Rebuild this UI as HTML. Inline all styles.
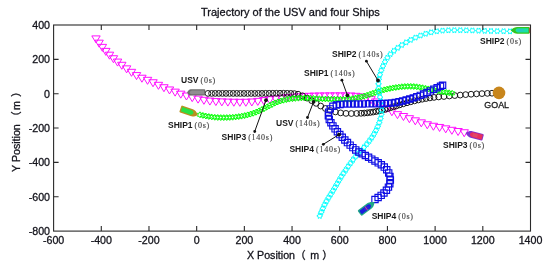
<!DOCTYPE html>
<html><head><meta charset="utf-8"><title>Trajectory of the USV and four Ships</title>
<style>html,body{margin:0;padding:0;background:#fff}svg{display:block}</style></head>
<body>
<svg width="550" height="267" viewBox="0 0 550 267">
<rect width="550" height="267" fill="#fff"/>
<path fill="none" stroke="#ff10ff" stroke-width="1" d="M91.8 35.9L100.2 35.9L96 42.9ZM94.94 40.17L103.34 40.17L99.14 47.17ZM98.18 44.37L106.58 44.37L102.38 51.37ZM101.62 48.39L110.02 48.39L105.82 55.39ZM105.33 52.18L113.73 52.18L109.53 59.18ZM109.27 55.73L117.67 55.73L113.47 62.73ZM113.37 59.08L121.77 59.08L117.57 66.08ZM117.59 62.29L125.99 62.29L121.79 69.29ZM122.42 65.85L130.82 65.85L126.62 72.85ZM127.31 69.32L135.71 69.32L131.51 76.32ZM132.34 72.59L140.74 72.59L136.54 79.59ZM137.72 75.22L146.12 75.22L141.92 82.22ZM143.35 77.32L151.75 77.32L147.55 84.32ZM148.83 79.74L157.23 79.74L153.03 86.74ZM154.25 82.32L162.65 82.32L158.45 89.32ZM159.75 84.72L168.15 84.72L163.95 91.72ZM165.31 86.96L173.71 86.96L169.51 93.96ZM170.91 89.13L179.31 89.13L175.11 96.13ZM176.56 91.16L184.96 91.16L180.76 98.16ZM182.26 93.01L190.66 93.01L186.46 100.01ZM188.03 94.67L196.43 94.67L192.23 101.67ZM193.85 96.14L202.25 96.14L198.05 103.14ZM199.73 97.31L208.13 97.31L203.93 104.31ZM205.68 98.09L214.08 98.09L209.88 105.09ZM211.66 98.57L220.06 98.57L215.86 105.57ZM217.65 98.88L226.05 98.88L221.85 105.88ZM223.65 99.1L232.05 99.1L227.85 106.1ZM229.64 99.24L238.04 99.24L233.84 106.24ZM235.64 99.3L244.04 99.3L239.84 106.3ZM241.64 99.25L250.04 99.25L245.84 106.25ZM247.64 98.98L256.04 98.98L251.84 105.98ZM253.61 98.38L262.01 98.38L257.81 105.38ZM259.55 97.54L267.95 97.54L263.75 104.54ZM265.48 96.66L273.88 96.66L269.68 103.66ZM271.43 95.86L279.83 95.86L275.63 102.86ZM277.39 95.15L285.79 95.15L281.59 102.15ZM283.36 94.56L291.76 94.56L287.56 101.56ZM289.34 94.1L297.74 94.1L293.54 101.1ZM294.53 93.77L302.93 93.77L298.73 100.77ZM299.72 93.5L308.12 93.5L303.92 100.5ZM304.92 93.29L313.32 93.29L309.12 100.29ZM310.11 93.12L318.51 93.12L314.31 100.12ZM315.31 93.01L323.71 93.01L319.51 100.01ZM320.51 92.94L328.91 92.94L324.71 99.94ZM325.71 92.91L334.11 92.91L329.91 99.91ZM330.91 92.9L339.31 92.9L335.11 99.9ZM336.11 92.9L344.51 92.9L340.31 99.9ZM341.31 92.91L349.71 92.91L345.51 99.91ZM346.51 93.01L354.91 93.01L350.71 100.01ZM351.7 93.3L360.1 93.3L355.9 100.3ZM356.87 93.89L365.27 93.89L361.07 100.89ZM361.96 94.94L370.36 94.94L366.16 101.94ZM366.87 96.63L375.27 96.63L371.07 103.63ZM371.52 98.95L379.92 98.95L375.72 105.95ZM376.93 102.18L385.33 102.18L381.13 109.18ZM382.35 105.4L390.75 105.4L386.55 112.4ZM387.68 108.75L396.08 108.75L391.88 115.75ZM393.27 111.65L401.67 111.65L397.47 118.65ZM399.28 113.5L407.68 113.5L403.48 120.5ZM405.19 115.68L413.59 115.68L409.39 122.68ZM411.11 117.83L419.51 117.83L415.31 124.83ZM417.09 119.83L425.49 119.83L421.29 126.83ZM423.08 121.77L431.48 121.77L427.28 128.77ZM429.2 123.26L437.6 123.26L433.4 130.26ZM435.39 124.46L443.79 124.46L439.59 131.46ZM441.53 125.84L449.93 125.84L445.73 132.84ZM447.66 127.31L456.06 127.31L451.86 134.31ZM453.85 128.5L462.25 128.5L458.05 135.5ZM460.02 129.74L468.42 129.74L464.22 136.74Z"/>
<g fill="none" stroke="#111" stroke-width="0.95"><circle cx="208" cy="93.4" r="2.9"/><circle cx="211.6" cy="93.4" r="2.9"/><circle cx="215.2" cy="93.39" r="2.9"/><circle cx="218.8" cy="93.39" r="2.9"/><circle cx="222.4" cy="93.39" r="2.9"/><circle cx="226" cy="93.4" r="2.9"/><circle cx="229.6" cy="93.4" r="2.9"/><circle cx="233.2" cy="93.41" r="2.9"/><circle cx="236.8" cy="93.41" r="2.9"/><circle cx="240.4" cy="93.42" r="2.9"/><circle cx="244" cy="93.43" r="2.9"/><circle cx="247.6" cy="93.43" r="2.9"/><circle cx="251.2" cy="93.43" r="2.9"/><circle cx="254.8" cy="93.43" r="2.9"/><circle cx="258.4" cy="93.41" r="2.9"/><circle cx="262" cy="93.39" r="2.9"/><circle cx="265.6" cy="93.35" r="2.9"/><circle cx="269.2" cy="93.32" r="2.9"/><circle cx="272.8" cy="93.29" r="2.9"/><circle cx="276.4" cy="93.28" r="2.9"/><circle cx="280" cy="93.27" r="2.9"/><circle cx="283.6" cy="93.29" r="2.9"/><circle cx="287.2" cy="93.34" r="2.9"/><circle cx="290.8" cy="93.42" r="2.9"/><circle cx="294.39" cy="93.62" r="2.9"/><circle cx="298.05" cy="94.21" r="2.9"/><circle cx="302.45" cy="95.78" r="2.9"/><circle cx="307.11" cy="98.1" r="2.9"/><circle cx="311.67" cy="100.65" r="2.9"/><circle cx="316.16" cy="103.36" r="2.9"/><circle cx="320.69" cy="106.05" r="2.9"/><circle cx="325.38" cy="108.46" r="2.9"/><circle cx="330.29" cy="110.44" r="2.9"/><circle cx="335.4" cy="111.92" r="2.9"/><circle cx="340.64" cy="112.89" r="2.9"/><circle cx="345.97" cy="113.39" r="2.9"/><circle cx="351.35" cy="113.53" r="2.9"/><circle cx="356.74" cy="113.46" r="2.9"/><circle cx="361" cy="113.3" r="2.9"/><circle cx="364.23" cy="113.09" r="2.9"/><circle cx="367.22" cy="112.82" r="2.9"/><circle cx="370.2" cy="112.47" r="2.9"/><circle cx="373.17" cy="112.03" r="2.9"/><circle cx="376.12" cy="111.5" r="2.9"/><circle cx="379.06" cy="110.88" r="2.9"/><circle cx="381.98" cy="110.19" r="2.9"/><circle cx="384.88" cy="109.43" r="2.9"/><circle cx="387.76" cy="108.61" r="2.9"/><circle cx="390.63" cy="107.74" r="2.9"/><circle cx="393.5" cy="106.84" r="2.9"/><circle cx="396.49" cy="105.89" r="2.9"/><circle cx="399.73" cy="104.88" r="2.9"/><circle cx="403.28" cy="103.83" r="2.9"/><circle cx="407.03" cy="102.77" r="2.9"/><circle cx="410.8" cy="101.78" r="2.9"/><circle cx="414.59" cy="100.85" r="2.9"/><circle cx="418.4" cy="99.99" r="2.9"/><circle cx="422.22" cy="99.21" r="2.9"/><circle cx="426.05" cy="98.51" r="2.9"/><circle cx="429.91" cy="97.91" r="2.9"/><circle cx="434.02" cy="97.4" r="2.9"/><circle cx="438.68" cy="96.94" r="2.9"/><circle cx="443.94" cy="96.49" r="2.9"/><circle cx="449.37" cy="96.02" r="2.9"/><circle cx="454.79" cy="95.54" r="2.9"/><circle cx="460.22" cy="95.07" r="2.9"/><circle cx="465.66" cy="94.62" r="2.9"/><circle cx="471.09" cy="94.22" r="2.9"/><circle cx="476.53" cy="93.88" r="2.9"/><circle cx="481.97" cy="93.6" r="2.9"/><circle cx="487.42" cy="93.37" r="2.9"/><circle cx="492" cy="93.2" r="2.9"/></g>
<path fill="none" stroke="#00ff00" stroke-width="0.9" d="M200 111.8L200.87 113.3L202.6 113.3L201.73 114.8L202.6 116.3L200.87 116.3L200 117.8L199.13 116.3L197.4 116.3L198.27 114.8L197.4 113.3L199.13 113.3ZM202.93 112.43L203.8 113.93L205.53 113.93L204.67 115.43L205.53 116.93L203.8 116.93L202.93 118.43L202.07 116.93L200.33 116.93L201.2 115.43L200.33 113.93L202.07 113.93ZM205.87 113.02L206.74 114.52L208.47 114.52L207.61 116.02L208.47 117.52L206.74 117.52L205.87 119.02L205.01 117.52L203.28 117.52L204.14 116.02L203.28 114.52L205.01 114.52ZM208.83 113.53L209.7 115.03L211.43 115.03L210.56 116.53L211.43 118.03L209.7 118.03L208.83 119.53L207.96 118.03L206.23 118.03L207.1 116.53L206.23 115.03L207.96 115.03ZM211.8 113.94L212.67 115.44L214.4 115.44L213.53 116.94L214.4 118.44L212.67 118.44L211.8 119.94L210.94 118.44L209.2 118.44L210.07 116.94L209.2 115.44L210.94 115.44ZM214.79 114.25L215.65 115.75L217.38 115.75L216.52 117.25L217.38 118.75L215.65 118.75L214.79 120.25L213.92 118.75L212.19 118.75L213.05 117.25L212.19 115.75L213.92 115.75ZM217.78 114.46L218.64 115.96L220.38 115.96L219.51 117.46L220.38 118.96L218.64 118.96L217.78 120.46L216.91 118.96L215.18 118.96L216.05 117.46L215.18 115.96L216.91 115.96ZM220.78 114.58L221.64 116.08L223.37 116.08L222.51 117.58L223.37 119.08L221.64 119.08L220.78 120.58L219.91 119.08L218.18 119.08L219.04 117.58L218.18 116.08L219.91 116.08ZM223.78 114.61L224.64 116.11L226.37 116.11L225.51 117.61L226.37 119.11L224.64 119.11L223.78 120.61L222.91 119.11L221.18 119.11L222.04 117.61L221.18 116.11L222.91 116.11ZM226.78 114.56L227.64 116.06L229.37 116.06L228.51 117.56L229.37 119.06L227.64 119.06L226.78 120.56L225.91 119.06L224.18 119.06L225.04 117.56L224.18 116.06L225.91 116.06ZM229.77 114.43L230.64 115.93L232.37 115.93L231.5 117.43L232.37 118.93L230.64 118.93L229.77 120.43L228.91 118.93L227.17 118.93L228.04 117.43L227.17 115.93L228.91 115.93ZM232.77 114.23L233.63 115.73L235.36 115.73L234.5 117.23L235.36 118.73L233.63 118.73L232.77 120.23L231.9 118.73L230.17 118.73L231.03 117.23L230.17 115.73L231.9 115.73ZM235.75 113.95L236.62 115.45L238.35 115.45L237.49 116.95L238.35 118.45L236.62 118.45L235.75 119.95L234.89 118.45L233.15 118.45L234.02 116.95L233.15 115.45L234.89 115.45ZM238.73 113.59L239.6 115.09L241.33 115.09L240.46 116.59L241.33 118.09L239.6 118.09L238.73 119.59L237.87 118.09L236.13 118.09L237 116.59L236.13 115.09L237.87 115.09ZM241.7 113.14L242.56 114.64L244.29 114.64L243.43 116.14L244.29 117.64L242.56 117.64L241.7 119.14L240.83 117.64L239.1 117.64L239.96 116.14L239.1 114.64L240.83 114.64ZM244.64 112.58L245.51 114.08L247.24 114.08L246.38 115.58L247.24 117.08L245.51 117.08L244.64 118.58L243.78 117.08L242.05 117.08L242.91 115.58L242.05 114.08L243.78 114.08ZM247.57 111.9L248.43 113.4L250.16 113.4L249.3 114.9L250.16 116.4L248.43 116.4L247.57 117.9L246.7 116.4L244.97 116.4L245.83 114.9L244.97 113.4L246.7 113.4ZM250.46 111.1L251.32 112.6L253.06 112.6L252.19 114.1L253.06 115.6L251.32 115.6L250.46 117.1L249.59 115.6L247.86 115.6L248.73 114.1L247.86 112.6L249.59 112.6ZM253.31 110.19L254.18 111.69L255.91 111.69L255.05 113.19L255.91 114.69L254.18 114.69L253.31 116.19L252.45 114.69L250.72 114.69L251.58 113.19L250.72 111.69L252.45 111.69ZM256.13 109.15L256.99 110.65L258.73 110.65L257.86 112.15L258.73 113.65L256.99 113.65L256.13 115.15L255.26 113.65L253.53 113.65L254.4 112.15L253.53 110.65L255.26 110.65ZM258.9 107.99L259.76 109.49L261.49 109.49L260.63 110.99L261.49 112.49L259.76 112.49L258.9 113.99L258.03 112.49L256.3 112.49L257.16 110.99L256.3 109.49L258.03 109.49ZM261.62 106.74L262.49 108.24L264.22 108.24L263.35 109.74L264.22 111.24L262.49 111.24L261.62 112.74L260.75 111.24L259.02 111.24L259.89 109.74L259.02 108.24L260.75 108.24ZM264.31 105.41L265.18 106.91L266.91 106.91L266.04 108.41L266.91 109.91L265.18 109.91L264.31 111.41L263.44 109.91L261.71 109.91L262.58 108.41L261.71 106.91L263.44 106.91ZM266.97 104.03L267.84 105.53L269.57 105.53L268.71 107.03L269.57 108.53L267.84 108.53L266.97 110.03L266.11 108.53L264.38 108.53L265.24 107.03L264.38 105.53L266.11 105.53ZM269.62 102.62L270.49 104.12L272.22 104.12L271.36 105.62L272.22 107.12L270.49 107.12L269.62 108.62L268.76 107.12L267.03 107.12L267.89 105.62L267.03 104.12L268.76 104.12ZM272.29 101.25L273.16 102.75L274.89 102.75L274.03 104.25L274.89 105.75L273.16 105.75L272.29 107.25L271.43 105.75L269.7 105.75L270.56 104.25L269.7 102.75L271.43 102.75ZM275.02 99.99L275.88 101.49L277.61 101.49L276.75 102.99L277.61 104.49L275.88 104.49L275.02 105.99L274.15 104.49L272.42 104.49L273.28 102.99L272.42 101.49L274.15 101.49ZM277.81 98.9L278.68 100.4L280.41 100.4L279.54 101.9L280.41 103.4L278.68 103.4L277.81 104.9L276.95 103.4L275.21 103.4L276.08 101.9L275.21 100.4L276.95 100.4ZM280.67 97.99L281.53 99.49L283.27 99.49L282.4 100.99L283.27 102.49L281.53 102.49L280.67 103.99L279.8 102.49L278.07 102.49L278.94 100.99L278.07 99.49L279.8 99.49ZM283.57 97.22L284.43 98.72L286.17 98.72L285.3 100.22L286.17 101.72L284.43 101.72L283.57 103.22L282.7 101.72L280.97 101.72L281.84 100.22L280.97 98.72L282.7 98.72ZM286.5 96.59L287.37 98.09L289.1 98.09L288.23 99.59L289.1 101.09L287.37 101.09L286.5 102.59L285.63 101.09L283.9 101.09L284.77 99.59L283.9 98.09L285.63 98.09ZM289.46 96.08L290.32 97.58L292.05 97.58L291.19 99.08L292.05 100.58L290.32 100.58L289.46 102.08L288.59 100.58L286.86 100.58L287.72 99.08L286.86 97.58L288.59 97.58ZM292.43 95.67L293.29 97.17L295.03 97.17L294.16 98.67L295.03 100.17L293.29 100.17L292.43 101.67L291.56 100.17L289.83 100.17L290.7 98.67L289.83 97.17L291.56 97.17ZM295.41 95.36L296.28 96.86L298.01 96.86L297.14 98.36L298.01 99.86L296.28 99.86L295.41 101.36L294.55 99.86L292.81 99.86L293.68 98.36L292.81 96.86L294.55 96.86ZM298.4 95.14L299.27 96.64L301 96.64L300.14 98.14L301 99.64L299.27 99.64L298.4 101.14L297.54 99.64L295.81 99.64L296.67 98.14L295.81 96.64L297.54 96.64ZM301.4 95.02L302.27 96.52L304 96.52L303.13 98.02L304 99.52L302.27 99.52L301.4 101.02L300.53 99.52L298.8 99.52L299.67 98.02L298.8 96.52L300.53 96.52ZM304.4 94.99L305.27 96.49L307 96.49L306.13 97.99L307 99.49L305.27 99.49L304.4 100.99L303.53 99.49L301.8 99.49L302.67 97.99L301.8 96.49L303.53 96.49ZM307.4 95.06L308.27 96.56L310 96.56L309.13 98.06L310 99.56L308.27 99.56L307.4 101.06L306.53 99.56L304.8 99.56L305.67 98.06L304.8 96.56L306.53 96.56ZM310.4 95.21L311.26 96.71L312.99 96.71L312.13 98.21L312.99 99.71L311.26 99.71L310.4 101.21L309.53 99.71L307.8 99.71L308.66 98.21L307.8 96.71L309.53 96.71ZM313.39 95.39L314.26 96.89L315.99 96.89L315.12 98.39L315.99 99.89L314.26 99.89L313.39 101.39L312.52 99.89L310.79 99.89L311.66 98.39L310.79 96.89L312.52 96.89ZM316.38 95.59L317.25 97.09L318.98 97.09L318.12 98.59L318.98 100.09L317.25 100.09L316.38 101.59L315.52 100.09L313.79 100.09L314.65 98.59L313.79 97.09L315.52 97.09ZM319.38 95.77L320.24 97.27L321.98 97.27L321.11 98.77L321.98 100.27L320.24 100.27L319.38 101.77L318.51 100.27L316.78 100.27L317.65 98.77L316.78 97.27L318.51 97.27ZM322.38 95.9L323.24 97.4L324.97 97.4L324.11 98.9L324.97 100.4L323.24 100.4L322.38 101.9L321.51 100.4L319.78 100.4L320.64 98.9L319.78 97.4L321.51 97.4ZM325.37 96L326.24 97.5L327.97 97.5L327.11 99L327.97 100.5L326.24 100.5L325.37 102L324.51 100.5L322.78 100.5L323.64 99L322.78 97.5L324.51 97.5ZM328.37 96.06L329.24 97.56L330.97 97.56L330.11 99.06L330.97 100.56L329.24 100.56L328.37 102.06L327.51 100.56L325.78 100.56L326.64 99.06L325.78 97.56L327.51 97.56ZM331.37 96.11L332.24 97.61L333.97 97.61L333.11 99.11L333.97 100.61L332.24 100.61L331.37 102.11L330.51 100.61L328.78 100.61L329.64 99.11L328.78 97.61L330.51 97.61ZM334.37 96.17L335.24 97.67L336.97 97.67L336.1 99.17L336.97 100.67L335.24 100.67L334.37 102.17L333.51 100.67L331.77 100.67L332.64 99.17L331.77 97.67L333.51 97.67ZM337.37 96.23L338.24 97.73L339.97 97.73L339.1 99.23L339.97 100.73L338.24 100.73L337.37 102.23L336.51 100.73L334.77 100.73L335.64 99.23L334.77 97.73L336.51 97.73ZM340.37 96.3L341.24 97.8L342.97 97.8L342.1 99.3L342.97 100.8L341.24 100.8L340.37 102.3L339.51 100.8L337.77 100.8L338.64 99.3L337.77 97.8L339.51 97.8ZM343.37 96.33L344.24 97.83L345.97 97.83L345.1 99.33L345.97 100.83L344.24 100.83L343.37 102.33L342.5 100.83L340.77 100.83L341.64 99.33L340.77 97.83L342.5 97.83ZM346.37 96.27L347.24 97.77L348.97 97.77L348.1 99.27L348.97 100.77L347.24 100.77L346.37 102.27L345.5 100.77L343.77 100.77L344.64 99.27L343.77 97.77L345.5 97.77ZM349.36 96.07L350.23 97.57L351.96 97.57L351.09 99.07L351.96 100.57L350.23 100.57L349.36 102.07L348.5 100.57L346.76 100.57L347.63 99.07L346.76 97.57L348.5 97.57ZM352.34 95.69L353.2 97.19L354.94 97.19L354.07 98.69L354.94 100.19L353.2 100.19L352.34 101.69L351.47 100.19L349.74 100.19L350.61 98.69L349.74 97.19L351.47 97.19ZM355.29 95.16L356.16 96.66L357.89 96.66L357.02 98.16L357.89 99.66L356.16 99.66L355.29 101.16L354.43 99.66L352.69 99.66L353.56 98.16L352.69 96.66L354.43 96.66ZM358.23 94.55L359.09 96.05L360.83 96.05L359.96 97.55L360.83 99.05L359.09 99.05L358.23 100.55L357.36 99.05L355.63 99.05L356.5 97.55L355.63 96.05L357.36 96.05ZM361.15 93.88L362.02 95.38L363.75 95.38L362.89 96.88L363.75 98.38L362.02 98.38L361.15 99.88L360.29 98.38L358.56 98.38L359.42 96.88L358.56 95.38L360.29 95.38ZM364.06 93.15L364.93 94.65L366.66 94.65L365.79 96.15L366.66 97.65L364.93 97.65L364.06 99.15L363.2 97.65L361.46 97.65L362.33 96.15L361.46 94.65L363.2 94.65ZM366.94 92.31L367.81 93.81L369.54 93.81L368.68 95.31L369.54 96.81L367.81 96.81L366.94 98.31L366.08 96.81L364.35 96.81L365.21 95.31L364.35 93.81L366.08 93.81ZM369.8 91.39L370.66 92.89L372.4 92.89L371.53 94.39L372.4 95.89L370.66 95.89L369.8 97.39L368.93 95.89L367.2 95.89L368.06 94.39L367.2 92.89L368.93 92.89ZM372.63 90.41L373.5 91.91L375.23 91.91L374.37 93.41L375.23 94.91L373.5 94.91L372.63 96.41L371.77 94.91L370.04 94.91L370.9 93.41L370.04 91.91L371.77 91.91ZM375.47 89.44L376.34 90.94L378.07 90.94L377.2 92.44L378.07 93.94L376.34 93.94L375.47 95.44L374.61 93.94L372.87 93.94L373.74 92.44L372.87 90.94L374.61 90.94ZM378.32 88.51L379.19 90.01L380.92 90.01L380.06 91.51L380.92 93.01L379.19 93.01L378.32 94.51L377.46 93.01L375.73 93.01L376.59 91.51L375.73 90.01L377.46 90.01ZM381.19 87.64L382.06 89.14L383.79 89.14L382.93 90.64L383.79 92.14L382.06 92.14L381.19 93.64L380.33 92.14L378.6 92.14L379.46 90.64L378.6 89.14L380.33 89.14ZM384.08 86.83L384.95 88.33L386.68 88.33L385.82 89.83L386.68 91.33L384.95 91.33L384.08 92.83L383.22 91.33L381.49 91.33L382.35 89.83L381.49 88.33L383.22 88.33ZM387 86.12L387.86 87.62L389.6 87.62L388.73 89.12L389.6 90.62L387.86 90.62L387 92.12L386.13 90.62L384.4 90.62L385.27 89.12L384.4 87.62L386.13 87.62ZM389.93 85.49L390.8 86.99L392.53 86.99L391.66 88.49L392.53 89.99L390.8 89.99L389.93 91.49L389.07 89.99L387.33 89.99L388.2 88.49L387.33 86.99L389.07 86.99ZM392.88 84.95L393.75 86.45L395.48 86.45L394.61 87.95L395.48 89.45L393.75 89.45L392.88 90.95L392.02 89.45L390.28 89.45L391.15 87.95L390.28 86.45L392.02 86.45ZM395.84 84.47L396.71 85.97L398.44 85.97L397.58 87.47L398.44 88.97L396.71 88.97L395.84 90.47L394.98 88.97L393.25 88.97L394.11 87.47L393.25 85.97L394.98 85.97ZM398.82 84.07L399.68 85.57L401.41 85.57L400.55 87.07L401.41 88.57L399.68 88.57L398.82 90.07L397.95 88.57L396.22 88.57L397.08 87.07L396.22 85.57L397.95 85.57ZM401.8 83.74L402.66 85.24L404.4 85.24L403.53 86.74L404.4 88.24L402.66 88.24L401.8 89.74L400.93 88.24L399.2 88.24L400.07 86.74L399.2 85.24L400.93 85.24ZM404.79 83.51L405.66 85.01L407.39 85.01L406.52 86.51L407.39 88.01L405.66 88.01L404.79 89.51L403.92 88.01L402.19 88.01L403.06 86.51L402.19 85.01L403.92 85.01ZM407.79 83.38L408.65 84.88L410.38 84.88L409.52 86.38L410.38 87.88L408.65 87.88L407.79 89.38L406.92 87.88L405.19 87.88L406.05 86.38L405.19 84.88L406.92 84.88ZM410.79 83.37L411.65 84.87L413.38 84.87L412.52 86.37L413.38 87.87L411.65 87.87L410.79 89.37L409.92 87.87L408.19 87.87L409.05 86.37L408.19 84.87L409.92 84.87ZM413.78 83.5L414.65 85L416.38 85L415.52 86.5L416.38 88L414.65 88L413.78 89.5L412.92 88L411.19 88L412.05 86.5L411.19 85L412.92 85ZM416.77 83.79L417.64 85.29L419.37 85.29L418.5 86.79L419.37 88.29L417.64 88.29L416.77 89.79L415.9 88.29L414.17 88.29L415.04 86.79L414.17 85.29L415.9 85.29ZM419.74 84.22L420.6 85.72L422.34 85.72L421.47 87.22L422.34 88.72L420.6 88.72L419.74 90.22L418.87 88.72L417.14 88.72L418.01 87.22L417.14 85.72L418.87 85.72ZM422.69 84.74L423.56 86.24L425.29 86.24L424.42 87.74L425.29 89.24L423.56 89.24L422.69 90.74L421.83 89.24L420.09 89.24L420.96 87.74L420.09 86.24L421.83 86.24ZM425.63 85.33L426.5 86.83L428.23 86.83L427.37 88.33L428.23 89.83L426.5 89.83L425.63 91.33L424.77 89.83L423.04 89.83L423.9 88.33L423.04 86.83L424.77 86.83ZM428.57 85.94L429.44 87.44L431.17 87.44L430.3 88.94L431.17 90.44L429.44 90.44L428.57 91.94L427.71 90.44L425.97 90.44L426.84 88.94L425.97 87.44L427.71 87.44ZM431.51 86.56L432.37 88.06L434.1 88.06L433.24 89.56L434.1 91.06L432.37 91.06L431.51 92.56L430.64 91.06L428.91 91.06L429.77 89.56L428.91 88.06L430.64 88.06ZM434.44 87.18L435.31 88.68L437.04 88.68L436.17 90.18L437.04 91.68L435.31 91.68L434.44 93.18L433.58 91.68L431.84 91.68L432.71 90.18L431.84 88.68L433.58 88.68ZM437.38 87.79L438.25 89.29L439.98 89.29L439.11 90.79L439.98 92.29L438.25 92.29L437.38 93.79L436.51 92.29L434.78 92.29L435.65 90.79L434.78 89.29L436.51 89.29ZM440.32 88.36L441.19 89.86L442.92 89.86L442.06 91.36L442.92 92.86L441.19 92.86L440.32 94.36L439.46 92.86L437.73 92.86L438.59 91.36L437.73 89.86L439.46 89.86ZM443.27 88.9L444.14 90.4L445.87 90.4L445.01 91.9L445.87 93.4L444.14 93.4L443.27 94.9L442.41 93.4L440.68 93.4L441.54 91.9L440.68 90.4L442.41 90.4ZM446.23 89.4L447.1 90.9L448.83 90.9L447.97 92.4L448.83 93.9L447.1 93.9L446.23 95.4L445.37 93.9L443.64 93.9L444.5 92.4L443.64 90.9L445.37 90.9ZM449.2 89.85L450.06 91.35L451.8 91.35L450.93 92.85L451.8 94.35L450.06 94.35L449.2 95.85L448.33 94.35L446.6 94.35L447.47 92.85L446.6 91.35L448.33 91.35ZM452.17 90.28L453.03 91.78L454.77 91.78L453.9 93.28L454.77 94.78L453.03 94.78L452.17 96.28L451.3 94.78L449.57 94.78L450.44 93.28L449.57 91.78L451.3 91.78Z"/>
<path fill="none" stroke="#00ffff" stroke-width="0.95" d="M512.95 31.3L511.48 32.15L511.48 33.85L510 33L508.52 33.85L508.52 32.15L507.05 31.3L508.52 30.45L508.52 28.75L510 29.6L511.48 28.75L511.48 30.45ZM506.55 31.22L505.08 32.08L505.08 33.78L503.6 32.93L502.13 33.78L502.13 32.08L500.65 31.22L502.13 30.37L502.13 28.67L503.6 29.52L505.08 28.67L505.08 30.37ZM500.21 31.14L498.73 31.99L498.73 33.69L497.26 32.84L495.78 33.69L495.78 31.99L494.31 31.14L495.78 30.28L495.78 28.58L497.26 29.43L498.73 28.58L498.73 30.28ZM493.92 31.03L492.44 31.88L492.44 33.58L490.97 32.73L489.49 33.58L489.49 31.88L488.02 31.03L489.49 30.17L489.49 28.47L490.97 29.32L492.44 28.47L492.44 30.17ZM487.68 30.88L486.21 31.73L486.21 33.43L484.73 32.58L483.26 33.43L483.26 31.73L481.78 30.88L483.26 30.03L483.26 28.32L484.73 29.18L486.21 28.32L486.21 30.03ZM481.5 30.69L480.03 31.54L480.03 33.24L478.55 32.39L477.08 33.24L477.08 31.54L475.6 30.69L477.08 29.83L477.08 28.13L478.55 28.98L480.03 28.13L480.03 29.83ZM475.37 30.47L473.9 31.33L473.9 33.03L472.42 32.18L470.95 33.03L470.95 31.33L469.47 30.47L470.95 29.62L470.95 27.92L472.42 28.77L473.9 27.92L473.9 29.62ZM469.3 30.31L467.82 31.16L467.82 32.86L466.35 32.01L464.87 32.86L464.87 31.16L463.4 30.31L464.87 29.46L464.87 27.75L466.35 28.61L467.82 27.75L467.82 29.46ZM463.27 30.22L461.8 31.07L461.8 32.77L460.32 31.92L458.85 32.77L458.85 31.07L457.37 30.22L458.85 29.37L458.85 27.66L460.32 28.51L461.8 27.66L461.8 29.37ZM457.3 30.2L455.82 31.05L455.82 32.76L454.35 31.91L452.87 32.76L452.87 31.05L451.4 30.2L452.87 29.35L452.87 27.65L454.35 28.5L455.82 27.65L455.82 29.35ZM451.38 30.29L449.9 31.15L449.9 32.85L448.43 32L446.95 32.85L446.95 31.15L445.48 30.29L446.95 29.44L446.95 27.74L448.43 28.59L449.9 27.74L449.9 29.44ZM445.51 30.61L444.04 31.46L444.04 33.16L442.56 32.31L441.09 33.16L441.09 31.46L439.61 30.61L441.09 29.76L441.09 28.06L442.56 28.91L444.04 28.06L444.04 29.76ZM439.73 31.27L438.26 32.12L438.26 33.82L436.78 32.97L435.31 33.82L435.31 32.12L433.83 31.27L435.31 30.42L435.31 28.72L436.78 29.57L438.26 28.72L438.26 30.42ZM434.09 32.32L432.62 33.17L432.62 34.87L431.14 34.02L429.67 34.87L429.67 33.17L428.19 32.32L429.67 31.46L429.67 29.76L431.14 30.61L432.62 29.76L432.62 31.46ZM428.66 33.74L427.18 34.59L427.18 36.29L425.71 35.44L424.23 36.29L424.23 34.59L422.76 33.74L424.23 32.89L424.23 31.18L425.71 32.03L427.18 31.18L427.18 32.89ZM423.45 35.51L421.97 36.36L421.97 38.07L420.5 37.22L419.02 38.07L419.02 36.36L417.55 35.51L419.02 34.66L419.02 32.96L420.5 33.81L421.97 32.96L421.97 34.66ZM418.46 37.58L416.99 38.43L416.99 40.14L415.51 39.28L414.04 40.14L414.04 38.43L412.56 37.58L414.04 36.73L414.04 35.03L415.51 35.88L416.99 35.03L416.99 36.73ZM413.7 39.87L412.22 40.73L412.22 42.43L410.75 41.58L409.27 42.43L409.27 40.73L407.8 39.87L409.27 39.02L409.27 37.32L410.75 38.17L412.22 37.32L412.22 39.02ZM409.14 42.34L407.67 43.2L407.67 44.9L406.19 44.05L404.72 44.9L404.72 43.2L403.24 42.34L404.72 41.49L404.72 39.79L406.19 40.64L407.67 39.79L407.67 41.49ZM404.8 44.99L403.33 45.84L403.33 47.54L401.85 46.69L400.38 47.54L400.38 45.84L398.9 44.99L400.38 44.14L400.38 42.44L401.85 43.29L403.33 42.44L403.33 44.14ZM400.7 47.81L399.23 48.66L399.23 50.37L397.75 49.52L396.28 50.37L396.28 48.66L394.8 47.81L396.28 46.96L396.28 45.26L397.75 46.11L399.23 45.26L399.23 46.96ZM396.87 50.82L395.39 51.68L395.39 53.38L393.92 52.53L392.44 53.38L392.44 51.68L390.97 50.82L392.44 49.97L392.44 48.27L393.92 49.12L395.39 48.27L395.39 49.97ZM393.39 54.11L391.91 54.97L391.91 56.67L390.44 55.82L388.96 56.67L388.96 54.97L387.49 54.11L388.96 53.26L388.96 51.56L390.44 52.41L391.91 51.56L391.91 53.26ZM390.38 57.79L388.9 58.64L388.9 60.35L387.43 59.5L385.95 60.35L385.95 58.64L384.48 57.79L385.95 56.94L385.95 55.24L387.43 56.09L388.9 55.24L388.9 56.94ZM387.94 61.83L386.47 62.69L386.47 64.39L384.99 63.54L383.52 64.39L383.52 62.69L382.04 61.83L383.52 60.98L383.52 59.28L384.99 60.13L386.47 59.28L386.47 60.98ZM385.94 66.07L384.47 66.92L384.47 68.63L382.99 67.77L381.52 68.63L381.52 66.92L380.04 66.07L381.52 65.22L381.52 63.52L382.99 64.37L384.47 63.52L384.47 65.22ZM384.22 70.39L382.74 71.24L382.74 72.94L381.27 72.09L379.79 72.94L379.79 71.24L378.32 70.39L379.79 69.54L379.79 67.83L381.27 68.69L382.74 67.83L382.74 69.54ZM382.81 74.78L381.33 75.63L381.33 77.34L379.86 76.49L378.38 77.34L378.38 75.63L376.91 74.78L378.38 73.93L378.38 72.23L379.86 73.08L381.33 72.23L381.33 73.93ZM381.85 79.26L380.38 80.11L380.38 81.82L378.9 80.96L377.43 81.82L377.43 80.11L375.95 79.26L377.43 78.41L377.43 76.71L378.9 77.56L380.38 76.71L380.38 78.41ZM381.47 83.79L380 84.64L380 86.34L378.52 85.49L377.05 86.34L377.05 84.64L375.57 83.79L377.05 82.94L377.05 81.23L378.52 82.09L380 81.23L380 82.94ZM381.61 88.3L380.14 89.15L380.14 90.85L378.66 90L377.19 90.85L377.19 89.15L375.71 88.3L377.19 87.45L377.19 85.74L378.66 86.59L380.14 85.74L380.14 87.45ZM382.15 92.74L380.68 93.59L380.68 95.3L379.2 94.45L377.73 95.3L377.73 93.59L376.25 92.74L377.73 91.89L377.73 90.19L379.2 91.04L380.68 90.19L380.68 91.89ZM382.98 97.11L381.5 97.96L381.5 99.67L380.03 98.81L378.55 99.67L378.55 97.96L377.08 97.11L378.55 96.26L378.55 94.56L380.03 95.41L381.5 94.56L381.5 96.26ZM383.88 101.43L382.41 102.28L382.41 103.98L380.93 103.13L379.46 103.98L379.46 102.28L377.98 101.43L379.46 100.58L379.46 98.87L380.93 99.73L382.41 98.87L382.41 100.58ZM384.58 105.75L383.1 106.6L383.1 108.31L381.63 107.45L380.15 108.31L380.15 106.6L378.68 105.75L380.15 104.9L380.15 103.2L381.63 104.05L383.1 103.2L383.1 104.9ZM384.75 110.09L383.28 110.94L383.28 112.64L381.8 111.79L380.33 112.64L380.33 110.94L378.85 110.09L380.33 109.24L380.33 107.53L381.8 108.39L383.28 107.53L383.28 109.24ZM384.33 114.38L382.86 115.23L382.86 116.93L381.38 116.08L379.91 116.93L379.91 115.23L378.43 114.38L379.91 113.53L379.91 111.82L381.38 112.68L382.86 111.82L382.86 113.53ZM383.45 118.57L381.97 119.42L381.97 121.12L380.5 120.27L379.02 121.12L379.02 119.42L377.55 118.57L379.02 117.71L379.02 116.01L380.5 116.86L381.97 116.01L381.97 117.71ZM382.22 122.63L380.74 123.48L380.74 125.19L379.27 124.33L377.79 125.19L377.79 123.48L376.32 122.63L377.79 121.78L377.79 120.08L379.27 120.93L380.74 120.08L380.74 121.78ZM380.71 126.57L379.23 127.42L379.23 129.12L377.76 128.27L376.28 129.12L376.28 127.42L374.81 126.57L376.28 125.72L376.28 124.01L377.76 124.87L379.23 124.01L379.23 125.72ZM378.94 130.37L377.46 131.23L377.46 132.93L375.99 132.08L374.51 132.93L374.51 131.23L373.04 130.37L374.51 129.52L374.51 127.82L375.99 128.67L377.46 127.82L377.46 129.52ZM376.92 134.05L375.45 134.9L375.45 136.6L373.97 135.75L372.5 136.6L372.5 134.9L371.02 134.05L372.5 133.19L372.5 131.49L373.97 132.34L375.45 131.49L375.45 133.19ZM374.68 137.58L373.2 138.43L373.2 140.13L371.73 139.28L370.25 140.13L370.25 138.43L368.78 137.58L370.25 136.73L370.25 135.02L371.73 135.87L373.2 135.02L373.2 136.73ZM372.24 140.97L370.77 141.82L370.77 143.52L369.29 142.67L367.82 143.52L367.82 141.82L366.34 140.97L367.82 140.12L367.82 138.42L369.29 139.27L370.77 138.42L370.77 140.12ZM369.65 144.23L368.17 145.09L368.17 146.79L366.7 145.94L365.22 146.79L365.22 145.09L363.75 144.23L365.22 143.38L365.22 141.68L366.7 142.53L368.17 141.68L368.17 143.38ZM366.92 147.39L365.45 148.24L365.45 149.94L363.97 149.09L362.5 149.94L362.5 148.24L361.02 147.39L362.5 146.53L362.5 144.83L363.97 145.68L365.45 144.83L365.45 146.53ZM364.1 150.44L362.63 151.29L362.63 152.99L361.15 152.14L359.68 152.99L359.68 151.29L358.2 150.44L359.68 149.59L359.68 147.88L361.15 148.74L362.63 147.88L362.63 149.59ZM361.25 153.46L359.78 154.31L359.78 156.02L358.3 155.16L356.83 156.02L356.83 154.31L355.35 153.46L356.83 152.61L356.83 150.91L358.3 151.76L359.78 150.91L359.78 152.61ZM358.5 156.56L357.02 157.41L357.02 159.11L355.55 158.26L354.07 159.11L354.07 157.41L352.6 156.56L354.07 155.71L354.07 154.01L355.55 154.86L357.02 154.01L357.02 155.71ZM355.94 159.81L354.46 160.66L354.46 162.36L352.99 161.51L351.51 162.36L351.51 160.66L350.04 159.81L351.51 158.96L351.51 157.25L352.99 158.11L354.46 157.25L354.46 158.96ZM353.51 163.15L352.03 164L352.03 165.71L350.56 164.86L349.08 165.71L349.08 164L347.61 163.15L349.08 162.3L349.08 160.6L350.56 161.45L352.03 160.6L352.03 162.3ZM351.12 166.52L349.64 167.37L349.64 169.07L348.17 168.22L346.69 169.07L346.69 167.37L345.22 166.52L346.69 165.67L346.69 163.96L348.17 164.81L349.64 163.96L349.64 165.67ZM348.75 169.89L347.27 170.74L347.27 172.44L345.8 171.59L344.32 172.44L344.32 170.74L342.85 169.89L344.32 169.04L344.32 167.33L345.8 168.19L347.27 167.33L347.27 169.04ZM346.43 173.29L344.96 174.14L344.96 175.84L343.48 174.99L342.01 175.84L342.01 174.14L340.53 173.29L342.01 172.44L342.01 170.73L343.48 171.58L344.96 170.73L344.96 172.44ZM344.2 176.74L342.73 177.59L342.73 179.29L341.25 178.44L339.78 179.29L339.78 177.59L338.3 176.74L339.78 175.89L339.78 174.18L341.25 175.03L342.73 174.18L342.73 175.89ZM342.08 180.24L340.6 181.1L340.6 182.8L339.13 181.95L337.65 182.8L337.65 181.1L336.18 180.24L337.65 179.39L337.65 177.69L339.13 178.54L340.6 177.69L340.6 179.39ZM340.01 183.78L338.54 184.63L338.54 186.34L337.06 185.49L335.59 186.34L335.59 184.63L334.11 183.78L335.59 182.93L335.59 181.23L337.06 182.08L338.54 181.23L338.54 182.93ZM337.96 187.32L336.48 188.17L336.48 189.87L335.01 189.02L333.53 189.87L333.53 188.17L332.06 187.32L333.53 186.46L333.53 184.76L335.01 185.61L336.48 184.76L336.48 186.46ZM335.85 190.81L334.38 191.66L334.38 193.37L332.9 192.52L331.43 193.37L331.43 191.66L329.95 190.81L331.43 189.96L331.43 188.26L332.9 189.11L334.38 188.26L334.38 189.96ZM333.68 194.26L332.2 195.11L332.2 196.82L330.73 195.97L329.25 196.82L329.25 195.11L327.78 194.26L329.25 193.41L329.25 191.71L330.73 192.56L332.2 191.71L332.2 193.41ZM331.52 197.71L330.04 198.56L330.04 200.26L328.57 199.41L327.09 200.26L327.09 198.56L325.62 197.71L327.09 196.86L327.09 195.15L328.57 196.01L330.04 195.15L330.04 196.86ZM329.44 201.2L327.97 202.05L327.97 203.76L326.49 202.91L325.02 203.76L325.02 202.05L323.54 201.2L325.02 200.35L325.02 198.65L326.49 199.5L327.97 198.65L327.97 200.35ZM327.53 204.78L326.06 205.63L326.06 207.34L324.58 206.49L323.11 207.34L323.11 205.63L321.63 204.78L323.11 203.93L323.11 202.23L324.58 203.08L326.06 202.23L326.06 203.93ZM325.81 208.45L324.34 209.3L324.34 211L322.86 210.15L321.39 211L321.39 209.3L319.91 208.45L321.39 207.6L321.39 205.89L322.86 206.75L324.34 205.89L324.34 207.6ZM324.22 212.17L322.75 213.02L322.75 214.72L321.27 213.87L319.8 214.72L319.8 213.02L318.32 212.17L319.8 211.32L319.8 209.61L321.27 210.46L322.75 209.61L322.75 211.32ZM322.71 215.91L321.23 216.76L321.23 218.47L319.76 217.61L318.28 218.47L318.28 216.76L316.81 215.91L318.28 215.06L318.28 213.36L319.76 214.21L321.23 213.36L321.23 215.06Z"/>
<path fill="none" stroke="#0c0ce4" stroke-width="1.15" d="M371.85 196.35h6.3v6.3h-6.3ZM374.97 194.37h6.3v6.3h-6.3ZM378 192.24h6.3v6.3h-6.3ZM380.81 189.84h6.3v6.3h-6.3ZM383.29 187.1h6.3v6.3h-6.3ZM385.29 183.99h6.3v6.3h-6.3ZM386.66 180.56h6.3v6.3h-6.3ZM387.2 176.91h6.3v6.3h-6.3ZM386.79 173.24h6.3v6.3h-6.3ZM385.56 169.76h6.3v6.3h-6.3ZM383.6 166.63h6.3v6.3h-6.3ZM381.1 163.91h6.3v6.3h-6.3ZM378.19 161.63h6.3v6.3h-6.3ZM375.05 159.67h6.3v6.3h-6.3ZM371.83 157.84h6.3v6.3h-6.3ZM368.64 155.97h6.3v6.3h-6.3ZM365.45 154.09h6.3v6.3h-6.3ZM362.21 152.31h6.3v6.3h-6.3ZM358.91 150.63h6.3v6.3h-6.3ZM355.67 148.85h6.3v6.3h-6.3ZM352.6 146.79h6.3v6.3h-6.3ZM349.73 144.46h6.3v6.3h-6.3ZM346.99 141.98h6.3v6.3h-6.3ZM344.3 139.43h6.3v6.3h-6.3ZM341.68 136.82h6.3v6.3h-6.3ZM339.12 134.14h6.3v6.3h-6.3ZM336.65 131.4h6.3v6.3h-6.3ZM334.26 128.57h6.3v6.3h-6.3ZM331.95 125.68h6.3v6.3h-6.3ZM329.75 122.7h6.3v6.3h-6.3ZM327.77 119.58h6.3v6.3h-6.3ZM326.14 116.26h6.3v6.3h-6.3ZM325.21 112.69h6.3v6.3h-6.3ZM325.49 109.02h6.3v6.3h-6.3ZM327.08 105.71h6.3v6.3h-6.3ZM329.76 103.19h6.3v6.3h-6.3ZM333.17 101.8h6.3v6.3h-6.3ZM336.83 101.25h6.3v6.3h-6.3ZM340.52 100.99h6.3v6.3h-6.3ZM344.22 100.88h6.3v6.3h-6.3ZM347.92 100.85h6.3v6.3h-6.3ZM351.62 100.85h6.3v6.3h-6.3ZM355.32 100.82h6.3v6.3h-6.3ZM359.02 100.77h6.3v6.3h-6.3ZM362.72 100.71h6.3v6.3h-6.3ZM366.42 100.66h6.3v6.3h-6.3ZM370.12 100.62h6.3v6.3h-6.3ZM373.82 100.58h6.3v6.3h-6.3ZM377.52 100.51h6.3v6.3h-6.3ZM381.21 100.38h6.3v6.3h-6.3ZM384.91 100.15h6.3v6.3h-6.3ZM388.59 99.8h6.3v6.3h-6.3ZM392.25 99.28h6.3v6.3h-6.3ZM395.89 98.59h6.3v6.3h-6.3ZM399.49 97.76h6.3v6.3h-6.3ZM403.07 96.82h6.3v6.3h-6.3ZM406.63 95.81h6.3v6.3h-6.3ZM410.16 94.71h6.3v6.3h-6.3ZM413.66 93.52h6.3v6.3h-6.3ZM417.13 92.21h6.3v6.3h-6.3ZM420.55 90.81h6.3v6.3h-6.3ZM423.93 89.31h6.3v6.3h-6.3ZM427.28 87.74h6.3v6.3h-6.3ZM430.63 86.15h6.3v6.3h-6.3ZM433.99 84.6h6.3v6.3h-6.3ZM437.36 83.08h6.3v6.3h-6.3ZM439.45 82.05h6.3v6.3h-6.3Z"/>
<g stroke="#2a2a2a" stroke-width="1.1" fill="none"><rect x="53.6" y="25.0" width="476.9" height="206.1"/>
<path d="M101.29 231.1v-5M101.29 25v5M148.98 231.1v-5M148.98 25v5M196.67 231.1v-5M196.67 25v5M244.36 231.1v-5M244.36 25v5M292.05 231.1v-5M292.05 25v5M339.74 231.1v-5M339.74 25v5M387.43 231.1v-5M387.43 25v5M435.12 231.1v-5M435.12 25v5M482.81 231.1v-5M482.81 25v5M53.6 196.75h5M530.5 196.75h-5M53.6 162.4h5M530.5 162.4h-5M53.6 128.05h5M530.5 128.05h-5M53.6 93.7h5M530.5 93.7h-5M53.6 59.35h5M530.5 59.35h-5"/></g>
<g font-family="Liberation Sans, Arial, sans-serif" font-size="10.67" fill="#14141c" stroke="#14141c" stroke-width="0.3">
<text x="53.6" y="244.3" text-anchor="middle">-600</text>
<text x="101.29" y="244.3" text-anchor="middle">-400</text>
<text x="148.98" y="244.3" text-anchor="middle">-200</text>
<text x="196.67" y="244.3" text-anchor="middle">0</text>
<text x="244.36" y="244.3" text-anchor="middle">200</text>
<text x="292.05" y="244.3" text-anchor="middle">400</text>
<text x="339.74" y="244.3" text-anchor="middle">600</text>
<text x="387.43" y="244.3" text-anchor="middle">800</text>
<text x="435.12" y="244.3" text-anchor="middle">1000</text>
<text x="482.81" y="244.3" text-anchor="middle">1200</text>
<text x="530.5" y="244.3" text-anchor="middle">1400</text>
<text x="50" y="234.9" text-anchor="end">-800</text>
<text x="50" y="200.55" text-anchor="end">-600</text>
<text x="50" y="166.2" text-anchor="end">-400</text>
<text x="50" y="131.85" text-anchor="end">-200</text>
<text x="50" y="97.5" text-anchor="end">0</text>
<text x="50" y="63.15" text-anchor="end">200</text>
<text x="50" y="28.8" text-anchor="end">400</text>
<text x="290.4" y="15.6" font-size="11" text-anchor="middle">Trajectory of the USV and four Ships</text>
<text y="258.6" font-family="Liberation Sans, 'Noto Sans CJK SC', sans-serif"><tspan x="247">X Position</tspan><tspan x="295">（</tspan><tspan x="310.2">m</tspan><tspan x="322.2">）</tspan></text>
<text transform="translate(20 172) rotate(-90)" font-family="Liberation Sans, 'Noto Sans CJK SC', sans-serif"><tspan x="0">Y Position</tspan><tspan x="49.9">（</tspan><tspan x="61.9">m</tspan><tspan x="74.9">）</tspan></text>
</g>
<circle cx="499" cy="92.9" r="6.3" fill="#c8861c"/>
<g transform="translate(196.2 92.4) rotate(0)"><path d="M-9.1 0C-7.88 -2.36 -6.65 -3.15 -5.6 -3.15L8.1 -3.15Q9.1 -3.15 9.1 -2.15L9.1 2.15Q9.1 3.15 8.1 3.15L-5.6 3.15C-6.65 3.15 -7.88 2.36 -9.1 0Z" fill="#6e6e6e"/><path d="M-6.58 0Q-5.98 -1.85 -4.08 -1.85L7.8 -1.85L7.8 1.85L-4.08 1.85Q-5.98 1.85 -6.58 0Z" fill="#8e8e8e"/></g>
<g transform="translate(189.1 111.8) rotate(199.6)"><path d="M-9.25 0C-6.97 -2.7 -4.7 -3.6 -2.75 -3.6L8.25 -3.6Q9.25 -3.6 9.25 -2.6L9.25 2.6Q9.25 3.6 8.25 3.6L-2.75 3.6C-4.7 3.6 -6.97 2.7 -9.25 0Z" fill="#b8901e"/><path d="M-4.57 0Q-3.97 -2.3 -2.07 -2.3L7.95 -2.3L7.95 2.3L-2.07 2.3Q-3.97 2.3 -4.57 0Z" fill="#28e044"/></g>
<g transform="translate(520.2 30.3) rotate(0)"><path d="M-9.5 0C-7.22 -2.55 -4.95 -3.4 -3 -3.4L8.5 -3.4Q9.5 -3.4 9.5 -2.4L9.5 2.4Q9.5 3.4 8.5 3.4L-3 3.4C-4.95 3.4 -7.22 2.55 -9.5 0Z" fill="#34c41e"/><path d="M-4.82 0Q-4.22 -2.1 -2.32 -2.1L8.2 -2.1L8.2 2.1L-2.32 2.1Q-4.22 2.1 -4.82 0Z" fill="#18e0a8"/><rect x="-1.82" y="-1.3" width="4.95" height="2.6" fill="#28c8c0"/><rect x="9" y="-2.6" width="0.9" height="5.2" fill="#c04030"/></g>
<g transform="translate(474.4 135.2) rotate(14.6)"><path d="M-9 0C-6.9 -2.55 -4.8 -3.4 -3 -3.4L8 -3.4Q9 -3.4 9 -2.4L9 2.4Q9 3.4 8 3.4L-3 3.4C-4.8 3.4 -6.9 2.55 -9 0Z" fill="#8030d0"/><path d="M-4.68 0Q-4.08 -2.5 -2.18 -2.5L8.1 -2.5L8.1 2.5L-2.18 2.5Q-4.08 2.5 -4.68 0Z" fill="#e8305c"/><rect x="-1.68" y="-1.7" width="4.86" height="3.4" fill="#e04868"/></g>
<g transform="translate(367 207.8) rotate(143.5)"><path d="M-9.35 0C-7.07 -2.55 -4.8 -3.4 -2.85 -3.4L8.35 -3.4Q9.35 -3.4 9.35 -2.4L9.35 2.4Q9.35 3.4 8.35 3.4L-2.85 3.4C-4.8 3.4 -7.07 2.55 -9.35 0Z" fill="#20a888"/><path d="M-4.67 0Q-4.07 -2.1 -2.17 -2.1L8.05 -2.1L8.05 2.1L-2.17 2.1Q-4.07 2.1 -4.67 0Z" fill="#1c1ce0"/><rect x="-1.67" y="-1.3" width="4.83" height="2.6" fill="#3028d0"/><rect x="0.5" y="-2.3" width="0.8" height="4.6" fill="#e040a0"/></g>
<g stroke="#111" stroke-width="1" fill="#111">
<line x1="366.4" y1="61.2" x2="378" y2="80.5"/><circle cx="366.4" cy="61.2" r="1.4" stroke="none"/><circle cx="378" cy="80.5" r="1.9" stroke="none"/>
<line x1="341.9" y1="80.2" x2="347.4" y2="95.3"/><circle cx="341.9" cy="80.2" r="1.4" stroke="none"/><circle cx="347.4" cy="95.3" r="1.9" stroke="none"/>
<line x1="307.5" y1="117.5" x2="313.6" y2="101.8"/><circle cx="307.5" cy="117.5" r="1.4" stroke="none"/><circle cx="313.6" cy="101.8" r="1.9" stroke="none"/>
<line x1="254.7" y1="131.5" x2="266" y2="100.2"/><circle cx="254.7" cy="131.5" r="1.4" stroke="none"/><circle cx="266" cy="100.2" r="1.9" stroke="none"/>
<line x1="323.3" y1="144.3" x2="339" y2="134.6"/><circle cx="323.3" cy="144.3" r="1.4" stroke="none"/><circle cx="339" cy="134.6" r="1.9" stroke="none"/>
</g>
<text x="181" y="82.6" font-family="Liberation Sans, Arial, sans-serif" font-weight="bold" font-size="8.5" fill="#1a1a1a">USV<tspan font-family="Liberation Serif, serif" font-weight="normal" font-size="8" fill="#404040" stroke="#404040" stroke-width="0.12" dx="2" letter-spacing="0.75">(0s)</tspan></text>
<text x="168" y="127.5" font-family="Liberation Sans, Arial, sans-serif" font-weight="bold" font-size="8.5" fill="#1a1a1a">SHIP1<tspan font-family="Liberation Serif, serif" font-weight="normal" font-size="8" fill="#404040" stroke="#404040" stroke-width="0.12" dx="2" letter-spacing="0.75">(0s)</tspan></text>
<text x="480" y="44" font-family="Liberation Sans, Arial, sans-serif" font-weight="bold" font-size="8.5" fill="#1a1a1a">SHIP2<tspan font-family="Liberation Serif, serif" font-weight="normal" font-size="8" fill="#404040" stroke="#404040" stroke-width="0.12" dx="2" letter-spacing="0.75">(0s)</tspan></text>
<text x="443" y="148.4" font-family="Liberation Sans, Arial, sans-serif" font-weight="bold" font-size="8.5" fill="#1a1a1a">SHIP3<tspan font-family="Liberation Serif, serif" font-weight="normal" font-size="8" fill="#404040" stroke="#404040" stroke-width="0.12" dx="2" letter-spacing="0.75">(0s)</tspan></text>
<text x="371.7" y="219.3" font-family="Liberation Sans, Arial, sans-serif" font-weight="bold" font-size="8.5" fill="#1a1a1a">SHIP4<tspan font-family="Liberation Serif, serif" font-weight="normal" font-size="8" fill="#404040" stroke="#404040" stroke-width="0.12" dx="2" letter-spacing="0.75">(0s)</tspan></text>
<text x="332" y="57" font-family="Liberation Sans, Arial, sans-serif" font-weight="bold" font-size="8.5" fill="#1a1a1a">SHIP2<tspan font-family="Liberation Serif, serif" font-weight="normal" font-size="8" fill="#404040" stroke="#404040" stroke-width="0.12" dx="2" letter-spacing="0.75">(140s)</tspan></text>
<text x="304" y="75.6" font-family="Liberation Sans, Arial, sans-serif" font-weight="bold" font-size="8.5" fill="#1a1a1a">SHIP1<tspan font-family="Liberation Serif, serif" font-weight="normal" font-size="8" fill="#404040" stroke="#404040" stroke-width="0.12" dx="2" letter-spacing="0.75">(140s)</tspan></text>
<text x="276" y="125.9" font-family="Liberation Sans, Arial, sans-serif" font-weight="bold" font-size="8.5" fill="#1a1a1a">USV<tspan font-family="Liberation Serif, serif" font-weight="normal" font-size="8" fill="#404040" stroke="#404040" stroke-width="0.12" dx="2" letter-spacing="0.75">(140s)</tspan></text>
<text x="221.6" y="140" font-family="Liberation Sans, Arial, sans-serif" font-weight="bold" font-size="8.5" fill="#1a1a1a">SHIP3<tspan font-family="Liberation Serif, serif" font-weight="normal" font-size="8" fill="#404040" stroke="#404040" stroke-width="0.12" dx="2" letter-spacing="0.75">(140s)</tspan></text>
<text x="289.4" y="152.4" font-family="Liberation Sans, Arial, sans-serif" font-weight="bold" font-size="8.5" fill="#1a1a1a">SHIP4<tspan font-family="Liberation Serif, serif" font-weight="normal" font-size="8" fill="#404040" stroke="#404040" stroke-width="0.12" dx="2" letter-spacing="0.75">(140s)</tspan></text>
<text x="496.7" y="107.6" text-anchor="middle" font-family="Liberation Sans, Arial, sans-serif" font-size="8.9" fill="#1a1a1a" stroke="#1a1a1a" stroke-width="0.3">GOAL</text>
</svg>
</body></html>
